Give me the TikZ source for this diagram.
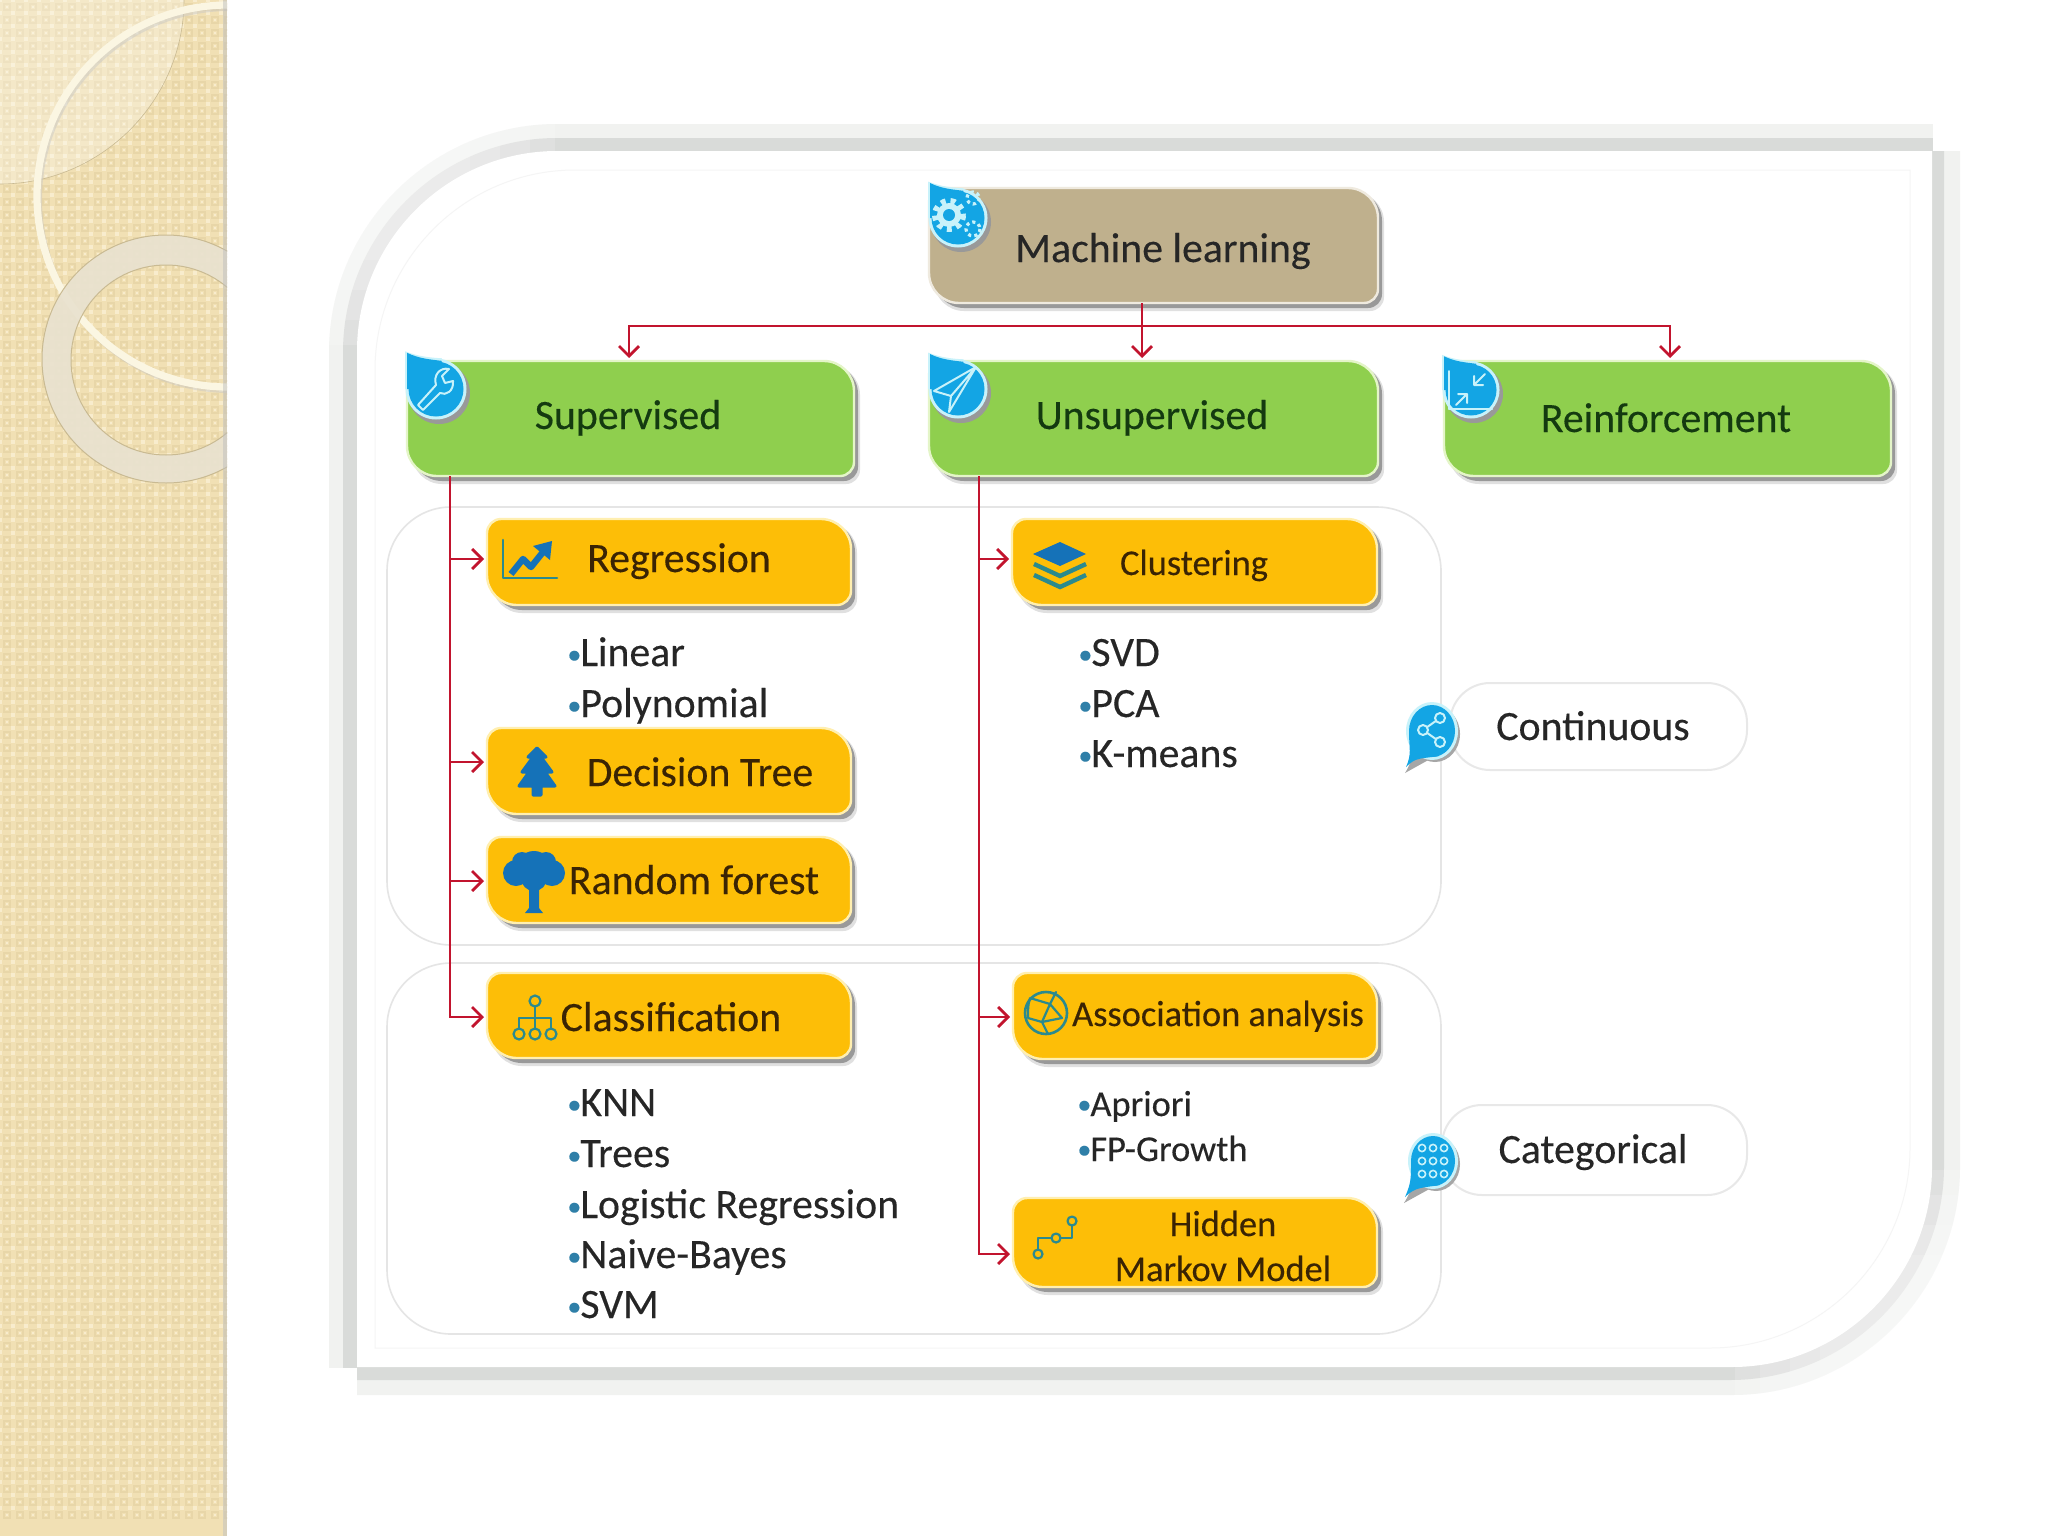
\documentclass[tikz,border=0pt]{standalone}
\usepackage{fontspec}
\setmainfont[FakeBold=0.25]{Carlito}
\usetikzlibrary{arrows.meta}
\definecolor{band}{HTML}{F1E0B4}
\definecolor{bandsq}{HTML}{E8D6A8}
\definecolor{bandlt}{HTML}{F8ECCD}
\definecolor{ringA}{HTML}{FBF6E2}
\definecolor{ringB}{HTML}{E9E2CF}
\definecolor{ringE}{HTML}{C9BA92}
\definecolor{wirec}{HTML}{C2142E}
\definecolor{tan}{HTML}{BFB08D}
\definecolor{tanE}{HTML}{EFEADF}
\definecolor{grn}{HTML}{8FCF4E}
\definecolor{grnE}{HTML}{E4F5C8}
\definecolor{org}{HTML}{FDBE07}
\definecolor{orgE}{HTML}{FFEFB0}
\definecolor{drop}{HTML}{13A5E4}
\definecolor{dropE}{HTML}{C8F2FA}
\definecolor{ic}{HTML}{1572B8}
\definecolor{it}{HTML}{2B8A8E}
\definecolor{bul}{HTML}{2F7FA8}
\definecolor{txG}{HTML}{143A10}
\definecolor{txO}{HTML}{3A2404}
\definecolor{txK}{HTML}{262626}
\definecolor{shD}{HTML}{D9DBD9}
\definecolor{shL}{HTML}{F1F2F0}
\tikzset{
  x=0.5pt,y=-0.5pt,
  wire/.style={draw=wirec,line width=1.35pt},
  tip/.style={-{Straight Barb[length=5pt,width=10pt,line width=1.35pt]},shorten >=1.5pt},
  anch/.style={inner sep=0pt,outer sep=0pt,rectangle},
  big/.style={font=\fontsize{20.9}{24}\selectfont,inner sep=0pt,anchor=base},
  mid/.style={font=\fontsize{18.2}{22}\selectfont,inner sep=0pt,anchor=base},
  on grn/.style={text=txG},
  on org/.style={text=txO},
  on tan/.style={text=txK},
  lst/.style={big,anchor=base west,text=txK},
  lsm/.style={mid,anchor=base west,text=txK},
  grp/.style={draw=black!10,line width=0.8pt,rounded corners=32pt},
  pill/.style={draw=black!9,fill=white,line width=1pt,rounded corners=20pt},
  ico/.style={draw=dropE,line width=1pt,line cap=round,line join=round},
  teal/.style={draw=it,line width=1.3pt,line cap=round,line join=round},
}
\newcommand{\blt}{{\color{bul}\makebox[6.5pt][l]{\fontsize{14}{14}\selectfont\raisebox{1.2pt}{•}}}}
% #1 x1, #2 y1, #3 x2, #4 y2, #5 small radius (TL,BR), #6 large radius (TR,BL)
\newcommand{\cpath}[6]{
  ({#1+#5},{#2}) -- ({#3-#6},{#2}) .. controls ({#3-.45*#6},{#2}) and ({#3},{#2+.45*#6}) .. ({#3},{#2+#6})
  -- ({#3},{#4-#5}) .. controls ({#3},{#4-.45*#5}) and ({#3-.45*#5},{#4}) .. ({#3-#5},{#4})
  -- ({#1+#6},{#4}) .. controls ({#1+.45*#6},{#4}) and ({#1},{#4-.45*#6}) .. ({#1},{#4-#6})
  -- ({#1},{#2+#5}) .. controls ({#1},{#2+.45*#5}) and ({#1+.45*#5},{#2}) .. cycle}
% name, x1,y1,x2,y2, fill, edge
\newcommand{\tile}[7]{
  \fill[black!12] \cpath{#2+5}{#3+4}{#4+6}{#5+8}{14}{30};
  \fill[black!40] \cpath{#2+5}{#3+3}{#4+4}{#5+5}{14}{30};
  \draw[fill=#6,draw=#7,line width=1.2pt] \cpath{#2}{#3}{#4}{#5}{14}{30};
  \node[anch,minimum width={(#4-#2)*0.5pt},minimum height={(#5-#3)*0.5pt}] (#1) at ({(#2+#4)/2},{(#3+#5)/2}) {};
}
% teardrop badge, point at top left: cx cy r
\newcommand{\dropbadge}[3]{
  \fill[black!40] ({#1+3},{#2+4}) circle[radius=#3+2];
  \fill[dropE] ({#1-#3-2},{#2}) -- ({#1-#3-2},{#2-1.3*#3}) .. controls ({#1-.6*#3},{#2-1.12*#3}) and ({#1-.2*#3},{#2-1.08*#3}) .. ({#1+.2*#3},{#2-1.06*#3}) -- (#1,#2) -- cycle;
  \fill[dropE] (#1,#2) circle[radius=#3+1.5];
  \fill[drop] ({#1-#3},{#2}) -- ({#1-#3},{#2-1.25*#3}) .. controls ({#1-.6*#3},{#2-1.05*#3}) and ({#1-.2*#3},{#2-1.02*#3}) .. ({#1+.2*#3},{#2-.97*#3}) -- (#1,#2) -- cycle;
  \fill[drop] (#1,#2) circle[radius=#3-1.5];
}
% speech badge, point at bottom left: cx cy rx ry tipx tipy
\newcommand{\bubble}[6]{
  \fill[black!35] ({#5-1},{#6+6}) .. controls ({#5+8},{#6-8}) and ({#1-#3+2},{#2+#4-10}) .. ({#1},{#2+#4}) -- cycle;
  \fill[black!35] ({#1+3},{#2+3}) ellipse[x radius=#3+1,y radius=#4+1];
  \fill[dropE] (#1,#2) ellipse[x radius=#3+2,y radius=#4+2];
  \fill[drop] (#1,#2) ellipse[x radius=#3-1,y radius=#4-1];
  \fill[drop] ({#1-#3+1},{#2}) .. controls ({#1-#3+1},{#2+.7*#4}) and ({#5+6},{#6-14}) .. (#5,#6) .. controls ({#5+10},{#6-10}) and ({#1-.5*#3},{#2+#4+1}) .. ({#1+.3*#3},{#2+#4-2}) -- (#1,#2) -- cycle;
}
\begin{document}
\begin{tikzpicture}
\useasboundingbox (0,0) rectangle (2048,1536);
\fill[white] (0,0) rectangle (2048,1536);
% left decorative band
\begin{scope}
  \clip (0,0) rectangle (227,1536);
  \fill[band] (0,0) rectangle (227,1536);
  \foreach \i in {0,...,17}{\foreach \j in {0,...,116}{
    \fill[bandlt] ({-2+13*\i},{-2+13*\j}) rectangle +(4,4);
    \draw[bandsq,line width=.7pt] ({4+13*\i},{4+13*\j}) rectangle +(6,6);
    \fill[bandlt] ({6+13*\i},{6+13*\j}) rectangle +(2,2);
  }}
  \fill[white,opacity=.28] (0,0) -- (184,0) .. controls (184,101) and (101,184) .. (0,184) -- cycle;
  \draw[ringE,line width=.3pt] (184,0) .. controls (184,101) and (101,184) .. (0,184);
  \draw[black!22,line width=3pt,opacity=.45] (230,199) circle[radius=191];
  \draw[ringA,line width=3.6pt] (228,196) circle[radius=191];
  \fill[ringB,even odd rule,opacity=.93] (166,359) circle[radius=124] (166,360) circle[radius=95];
  \draw[ringE,line width=.5pt] (166,359) circle[radius=124] (166,360) circle[radius=95];
  \fill[black!25,opacity=.5] (223,0) rectangle (227,1536);
\end{scope}
% white sheet with soft edge
\fill[shL] \cpath{329}{124}{1960}{1395}{228}{0};
\fill[shD] \cpath{343}{138}{1944}{1380}{214}{0};
\fill[white] (1933,118) rectangle (1966,151);
\fill[white] (323,1368) rectangle (357,1400);
\foreach \s in {130,160,190,215}{
  \fill[white,opacity=.16] (322,118) rectangle ({340+\s},{130+\s});
  \fill[white,opacity=.16] (1966,1402) rectangle ({1950-\s},{1385-\s});
}
\fill[white] \cpath{357}{151}{1932}{1367}{200}{0};
\draw[black!4,line width=.5pt] \cpath{375}{170}{1910}{1348}{200}{0};
% grouping frames
\draw[grp] (387,507) rectangle (1441,945);
\draw[grp] (387,963) rectangle (1441,1334);
\node[anch,pill,minimum width=148.5pt,minimum height=43.5pt] (cont) at (1598.5,726.5) {};
\node[anch,pill,minimum width=152.5pt,minimum height=45pt] (cate) at (1594.5,1150) {};
% connector reference points
\coordinate (bus) at (1142,326);
\coordinate (busL) at (629,326);
\coordinate (busR) at (1670,326);
\coordinate (tL) at (450,1017);
\coordinate (tR) at (979,1254);
\coordinate (bReg) at (450,559);
\coordinate (bDec) at (450,762);
\coordinate (bRan) at (450,881);
\coordinate (bClu) at (979,559);
\coordinate (bAss) at (979,1017);
% cards
\tile{ml}{929}{188}{1378}{303}{tan}{tanE}
\tile{sup}{407}{361}{854}{476}{grn}{grnE}
\tile{uns}{929}{361}{1378}{476}{grn}{grnE}
\tile{rei}{1444}{361}{1891}{476}{grn}{grnE}
\tile{reg}{487}{519}{851}{605}{org}{orgE}
\tile{clu}{1012}{519}{1377}{605}{org}{orgE}
\tile{dec}{487}{728}{851}{814}{org}{orgE}
\tile{ran}{487}{837}{851}{923}{org}{orgE}
\tile{cls}{487}{973}{851}{1058}{org}{orgE}
\tile{ass}{1013}{973}{1377}{1059}{org}{orgE}
\tile{hmm}{1013}{1198}{1377}{1287}{org}{orgE}
% connectors
\draw[wire] (ml.south -| bus) -- (bus);
\draw[wire,tip] (bus) -- (bus |- uns.north);
\draw[wire,tip] (bus) -- (busL) -- (busL |- sup.north);
\draw[wire,tip] (bus) -- (busR) -- (busR |- rei.north);
\draw[wire,tip] (sup.south -| tL) -- (tL) -- (tL -| cls.west);
\draw[wire,tip] (bReg) -- (bReg -| reg.west);
\draw[wire,tip] (bDec) -- (bDec -| dec.west);
\draw[wire,tip] (bRan) -- (bRan -| ran.west);
\draw[wire,tip] (uns.south -| tR) -- (tR) -- (tR -| hmm.west);
\draw[wire,tip] (bClu) -- (bClu -| clu.west);
\draw[wire,tip] (bAss) -- (bAss -| ass.west);
% badges with icons
\dropbadge{958}{218}{28}
\begin{scope}[shift={(958,218)}]
  \fill[dropE] (-9,-3) circle[radius=12];
  \draw[dropE,line width=3pt,dash pattern=on 2.4pt off 2.4pt] (-9,-3) circle[radius=14];
  \fill[drop] (-9,-3) circle[radius=6];
  \draw[dropE,line width=1.6pt,dash pattern=on 1.6pt off 1.6pt] (15,-20) circle[radius=6];
  \draw[dropE,line width=1.6pt,dash pattern=on 1.6pt off 1.6pt] (15,11) circle[radius=7];
\end{scope}
\dropbadge{436}{389}{29}
\begin{scope}[shift={(436,389)}]
  \draw[ico] (-13,21) -- (-18,16) -- (0,-4) .. controls (-3,-14) and (4,-22) .. (13,-20) -- (6,-13) -- (9,-6) -- (17,-8) .. controls (18,2) and (10,7) .. (4,4) -- (-13,21) -- cycle;
\end{scope}
\dropbadge{958}{389}{28}
\begin{scope}[shift={(958,389)}]
  \draw[ico] (18,-22) -- (-24,2) -- (-7,7) -- (18,-22) (-7,7) -- (-9,23) -- (18,-22);
\end{scope}
\dropbadge{1471}{390}{27}
\begin{scope}[shift={(1471,390)}]
  \draw[ico] (-22,-19) -- (-22,19) (-22,19) -- (21,19);
  \draw[ico] (14,-16) -- (3,-5) (3,-14) -- (3,-5) -- (12,-5);
  \draw[ico] (-15,15) -- (-4,4) (-13,4) -- (-4,4) -- (-4,13);
\end{scope}
\bubble{1432}{731}{24}{27}{1406}{767}
\begin{scope}[shift={(1432,731)}]
  \draw[ico] (8,-13) -- (-9,-1) -- (8,11);
  \fill[drop] (8,-13) circle[radius=5] (-9,-1) circle[radius=5] (8,11) circle[radius=5];
  \draw[ico] (8,-13) circle[radius=5] (-9,-1) circle[radius=5] (8,11) circle[radius=5];
\end{scope}
\bubble{1433}{1161}{23}{26}{1405}{1197}
\begin{scope}[shift={(1433,1161)}]
  \foreach \p in {-11,0,11}{\foreach \q in {-13,0,13}{
    \draw[ico,line width=.8pt] (\p,\q) circle[radius=3.6];
  }}
\end{scope}
% icons on the yellow cards
\draw[teal] (503,540) -- (503,578) -- (557,578);
\draw[draw=ic,line width=3.2pt,line join=round] (511,574) -- (523,559) -- (531,567) -- (543,552);
\fill[ic] (552,541) -- (550,560) -- (533,546) -- cycle;
\fill[ic] (1060,542) -- (1086,554) -- (1060,566) -- (1033,554) -- cycle;
\draw[it,line width=2.2pt] (1034,564) -- (1060,576) -- (1086,564) (1034,575) -- (1060,587) -- (1086,575);
\draw[ic,fill=ic,line width=1.5pt,line join=round] (537,748) -- (546,757) -- (541,757) -- (552,772) -- (545,772) -- (555,786) -- (541,786) -- (541,795) -- (533,795) -- (533,786) -- (519,786) -- (529,772) -- (522,772) -- (533,757) -- (528,757) -- cycle;
\fill[ic] (534,869) circle[radius=18] (516,873) circle[radius=13] (552,873) circle[radius=13] (522,862) circle[radius=10] (546,862) circle[radius=10] (534,878) circle[radius=13];
\fill[ic] (529,885) -- (539,885) -- (539,908) -- (543,913) -- (525,913) -- (529,908) -- cycle;
\draw[teal,line width=1.1pt] (535,1007) -- (535,1028) (519,1028) -- (519,1018) -- (551,1018) -- (551,1028);
\draw[teal,line width=1.1pt] (535,1001) circle[radius=5.5] (519,1034) circle[radius=5.5] (535,1034) circle[radius=5.5] (551,1034) circle[radius=5.5];
\draw[teal,line width=1.3pt] (1046,1013) circle[radius=21];
\draw[teal,line width=1.1pt] (1030,998) -- (1050,1004) -- (1042,1022) -- (1028,1018) (1050,1004) -- (1056,992) (1050,1004) -- (1062,1018) -- (1042,1022) -- (1048,1034) (1030,998) .. controls (1028,1006) .. (1028,1018);
\draw[teal,line width=1.1pt] (1038,1249) -- (1038,1238) -- (1072,1238) -- (1072,1226);
\draw[teal,fill=org,line width=1.1pt] (1038,1254) circle[radius=4.5] (1056,1238) circle[radius=4.5] (1072,1221) circle[radius=4.5];
% labels
\node[big,on tan] (t-ml) at (1163,262) {Machine learning};
\node[big,on grn] (t-sup) at (628,429) {Supervised};
\node[big,on grn] (t-uns) at (1152,429) {Unsupervised};
\node[big,on grn] (t-rei) at (1666,432) {Reinforcement};
\node[big,on org] (t-reg) at (679,572) {Regression};
\node[mid,on org] (t-clu) at (1194,575) {Clustering};
\node[big,on org] (t-dec) at (700,786) {Decision Tree};
\node[big,on org] (t-ran) at (694,894) {Random forest};
\node[big,on org] (t-cls) at (671,1031) {Classification};
\node[mid,on org] (t-ass) at (1218,1026) {Association analysis};
\node[mid,on org] (t-hid) at (1223,1236) {Hidden};
\node[mid,on org] (t-mar) at (1223,1281) {Markov Model};
\node[big,text=txK] (t-con) at (1593,740) {Continuous};
\node[big,text=txK] (t-cat) at (1593,1163) {Categorical};
\node[lst] (l1) at (567,666) {\blt Linear};
\node[lst] (l2) at (567,717) {\blt Polynomial};
\node[lst] (l3) at (567,1116) {\blt KNN};
\node[lst] (l4) at (567,1167) {\blt Trees};
\node[lst] (l5) at (567,1218) {\blt Logistic Regression};
\node[lst] (l6) at (567,1268) {\blt Naive-Bayes};
\node[lst] (l7) at (567,1318) {\blt SVM};
\node[lst] (r1) at (1078,666) {\blt SVD};
\node[lst] (r2) at (1078,717) {\blt PCA};
\node[lst] (r3) at (1078,767) {\blt K-means};
\node[lsm] (r4) at (1077,1116) {\blt Apriori};
\node[lsm] (r5) at (1077,1161) {\blt FP-Growth};
\end{tikzpicture}
\end{document}
